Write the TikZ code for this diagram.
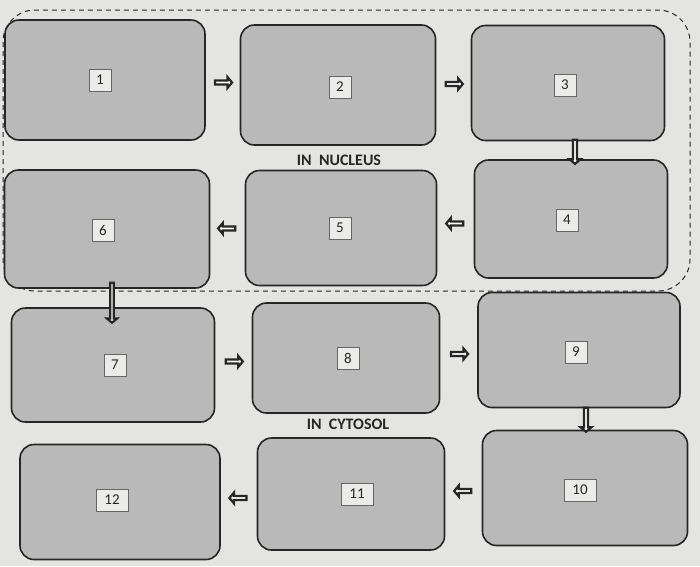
\documentclass[tikz,border=0pt]{standalone}
\usepackage{fontspec}
\setsansfont{Carlito}
\usetikzlibrary{shapes.arrows,calc}

\definecolor{paper}{HTML}{E4E4E2}
\definecolor{panelgray}{HTML}{B9B9B9}
\definecolor{labelgray}{HTML}{EBEBEA}
\definecolor{ink}{HTML}{262626}

\tikzset{
  panel/.style={draw=ink, line width=1.6pt, fill=panelgray, rounded corners=14pt},
  num/.style={draw=gray!80!black, line width=0.7pt, fill=labelgray, minimum size=22pt, inner sep=2pt,
    font=\sffamily\fontsize{15}{15}\selectfont, text=ink},
  flow/.style={single arrow, draw=ink, line width=2.2pt, fill=white, minimum width=11pt,
    single arrow head extend=2pt, single arrow tip angle=100, inner sep=0pt},
  region/.style={font=\sffamily\bfseries\fontsize{16}{16}\selectfont, text=ink}
}

\begin{document}
\begin{tikzpicture}[x=1pt,y=-1pt]

  % page
  \fill[paper] (0,0) rectangle (700,566);
  \useasboundingbox (0,0) rectangle (700,566);

  % nucleus border
  \draw[ink, line width=1pt, dash pattern=on 5pt off 4pt, rounded corners=32pt]
    (3,10) rectangle (690,291);

  % Define panels
  \node[panel, minimum width=200pt, minimum height=120pt] (b1)  at (105,80)  {};
  \node[panel, minimum width=195pt, minimum height=120pt] (b2)  at (338,85)  {};
  \node[panel, minimum width=193pt, minimum height=115pt] (b3)  at (568,83)  {};
  \node[panel, minimum width=193pt, minimum height=118pt] (b4)  at (571,219) {};
  \node[panel, minimum width=191pt, minimum height=115pt] (b5)  at (341,228) {};
  \node[panel, minimum width=205pt, minimum height=118pt] (b6)  at (107,229) {};
  \node[panel, minimum width=203pt, minimum height=114pt] (b7)  at (113,365) {};
  \node[panel, minimum width=187pt, minimum height=110pt] (b8)  at (346,358) {};
  \node[panel, minimum width=202pt, minimum height=115pt] (b9)  at (579,350) {};
  \node[panel, minimum width=205pt, minimum height=115pt] (b10) at (585,488) {};
  \node[panel, minimum width=187pt, minimum height=112pt] (b11) at (351,494) {};
  \node[panel, minimum width=200pt, minimum height=115pt] (b12) at (120,502) {};

  % Numbers
  \node[num] (n1)  at (100,80)  {1};
  \node[num] (n2)  at (340,87)  {2};
  \node[num] (n3)  at (565,85)  {3};
  \node[num] (n4)  at (567,220) {4};
  \node[num] (n5)  at (340,228) {5};
  \node[num] (n6)  at (103,230) {6};
  \node[num] (n7)  at (115,365) {7};
  \node[num] (n8)  at (348,358) {8};
  \node[num] (n9)  at (576,352) {9};
  \node[num, minimum width=32pt] (n10) at (580,490) {10};
  \node[num, minimum width=32pt] (n11) at (357,494) {11};
  \node[num, minimum width=32pt] (n12) at (112,500) {12};

  % Arrows between panels
  \node[flow, minimum height=17pt] (a12) at ($(b1.east)!0.5!(b2.west)$) {};
  \node[flow, minimum height=17pt] (a23) at ($(b2.east)!0.5!(b3.west)$) {};
  \node[flow, minimum height=24pt, shape border rotate=270] (a34) at (575,151) {};
  \node[flow, minimum height=17pt, shape border rotate=180] (a45) at ($(b4.west)!0.5!(b5.east)$) {};
  \node[flow, minimum height=17pt, shape border rotate=180] (a56) at ($(b5.west)!0.5!(b6.east)$) {};
  \node[flow, minimum height=40pt, minimum width=10pt, shape border rotate=270] (a67) at (112,302) {};
  \node[flow, minimum height=17pt] (a78) at ($(b7.east)!0.5!(b8.west)$) {};
  \node[flow, minimum height=17pt] (a89) at ($(b8.east)!0.5!(b9.west)$) {};
  \node[flow, minimum height=24pt, shape border rotate=270] (a910) at (586,419) {};
  \node[flow, minimum height=17pt, shape border rotate=180] (a1011) at ($(b10.west)!0.5!(b11.east)$) {};
  \node[flow, minimum height=17pt, shape border rotate=180] (a1112) at ($(b11.west)!0.5!(b12.east)$) {};

  % Region labels
  \node[region] (nucleus) at (339,160) {IN\ \ NUCLEUS};
  \node[region] (cytosol) at (348,424) {IN\ \ CYTOSOL};

\end{tikzpicture}
\end{document}
